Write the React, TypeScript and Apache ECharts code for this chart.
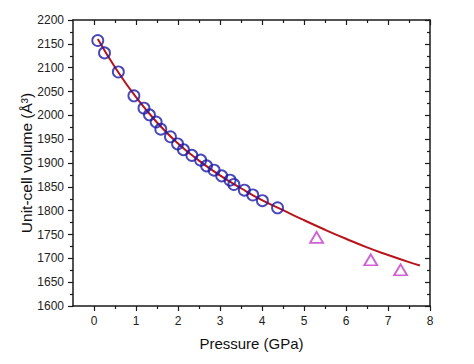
import React, { useEffect, useRef } from "react";
import * as echarts from "echarts";

// Measured unit-cell volumes (circles)
const circleP = [0.09, 0.25, 0.58, 0.95, 1.19, 1.32, 1.48, 1.59, 1.82, 1.99, 2.13, 2.33, 2.54, 2.68, 2.86, 3.04, 3.24, 3.33, 3.58, 3.78, 4.01, 4.37];
const circleV = [2157, 2131, 2091, 2041, 2015, 2001, 1986, 1971, 1955, 1940, 1928, 1916, 1906, 1894, 1885, 1873, 1864, 1855, 1843, 1833, 1821, 1806];

// Triangles
const triP = [5.3, 6.59, 7.3];
const triV = [1744, 1697, 1676];

// Fitted curve
const fitP = [0.09, 0.5, 1.0, 1.5, 2.0, 2.5, 3.0, 3.5, 4.0, 4.5, 5.0, 5.5, 6.0, 6.5, 7.0, 7.5, 7.76];
const fitV = [2160, 2101, 2038, 1985, 1941, 1905, 1874, 1847, 1822, 1801, 1780, 1760, 1741, 1723, 1707, 1692, 1685];

const xMajor = [0, 1, 2, 3, 4, 5, 6, 7, 8];
const xMinor = [0.5, 1.5, 2.5, 3.5, 4.5, 5.5, 6.5, 7.5];

const FONT = "'Liberation Sans', Arial, sans-serif";
const AX = "#1a1a1a";

export default function App() {
  const ref = useRef<HTMLDivElement>(null);
  useEffect(() => {
    if (!ref.current) return;
    const chart = echarts.init(ref.current, null, { renderer: "svg" });
    const xBase = { type: "value", min: -0.5, max: 8, gridIndex: 0, splitLine: { show: false } };
    const line = { onZero: false, show: true, lineStyle: { color: AX, width: 1.5 } };
    const noLine = { onZero: false, show: false };
    chart.setOption({
      animation: false,
      backgroundColor: "#ffffff",
      grid: { left: 73, top: 20, right: 44, bottom: 58 },
      xAxis: [
        {
          ...xBase,
          position: "bottom",
          axisLine: line,
          axisTick: { show: true, customValues: xMajor, length: 5, lineStyle: { color: AX, width: 1.2 } },
          axisLabel: { show: true, customValues: xMajor, margin: 9, fontSize: 12, color: "#222", fontFamily: FONT },
          name: "Pressure (GPa)",
          nameLocation: "middle",
          nameGap: 30,
          nameMoveOverlap: false,
          nameTextStyle: { fontSize: 15, color: "#111", fontFamily: FONT },
        },
        {
          ...xBase,
          position: "bottom",
          axisLine: noLine,
          axisTick: { show: true, customValues: xMinor, length: 3, lineStyle: { color: AX, width: 1.2 } },
          axisLabel: { show: false },
        },
        {
          ...xBase,
          position: "top",
          axisLine: line,
          axisTick: { show: true, inside: true, customValues: xMajor, length: 5, lineStyle: { color: AX, width: 1.2 } },
          axisLabel: { show: false },
        },
        {
          ...xBase,
          position: "top",
          axisLine: noLine,
          axisTick: { show: true, inside: true, customValues: xMinor, length: 3, lineStyle: { color: AX, width: 1.2 } },
          axisLabel: { show: false },
        },
      ],
      yAxis: [
        {
          type: "value",
          position: "left",
          min: 1600,
          max: 2200,
          interval: 50,
          splitLine: { show: false },
          axisLine: line,
          axisTick: { show: true, length: 5, lineStyle: { color: AX, width: 1.2 } },
          minorTick: { show: true, splitNumber: 2, length: 3, lineStyle: { color: AX, width: 1.2 } },
          axisLabel: { margin: 9, fontSize: 12, color: "#222", fontFamily: FONT, formatter: (v: number) => String(v) },
          name: "Unit-cell volume (Å³)",
          nameLocation: "middle",
          nameGap: 39,
          nameMoveOverlap: false,
          nameTextStyle: { fontSize: 15.5, color: "#111", fontFamily: FONT },
        },
        {
          type: "value",
          position: "right",
          min: 1600,
          max: 2200,
          interval: 50,
          splitLine: { show: false },
          axisLine: line,
          axisTick: { show: true, inside: true, length: 5, lineStyle: { color: AX, width: 1.2 } },
          minorTick: { show: true, splitNumber: 2, length: 3, lineStyle: { color: AX, width: 1.2 } },
          axisLabel: { show: false },
        },
      ],
      series: [
        {
          type: "line",
          xAxisIndex: 0,
          yAxisIndex: 0,
          data: fitP.map((p, i) => [p, fitV[i]]),
          smooth: true,
          showSymbol: false,
          lineStyle: { color: "#b8141c", width: 2 },
          z: 2,
        },
        {
          type: "scatter",
          xAxisIndex: 0,
          yAxisIndex: 0,
          data: circleP.map((p, i) => [p, circleV[i]]),
          symbol: "circle",
          symbolSize: 11,
          itemStyle: { color: "rgba(0,0,0,0)", borderColor: "#1c1ca6", borderWidth: 1.9 },
          z: 3,
        },
        {
          type: "scatter",
          xAxisIndex: 0,
          yAxisIndex: 0,
          data: triP.map((p, i) => [p, triV[i]]),
          symbol: "triangle",
          symbolSize: [13, 11],
          itemStyle: { color: "rgba(0,0,0,0)", borderColor: "#c23ac8", borderWidth: 1.8 },
          z: 3,
        },
      ],
    });
    return () => chart.dispose();
  }, []);
  return <div ref={ref} style={{ width: 474, height: 364, position: "absolute", left: 0, top: 0 }} />;
}
